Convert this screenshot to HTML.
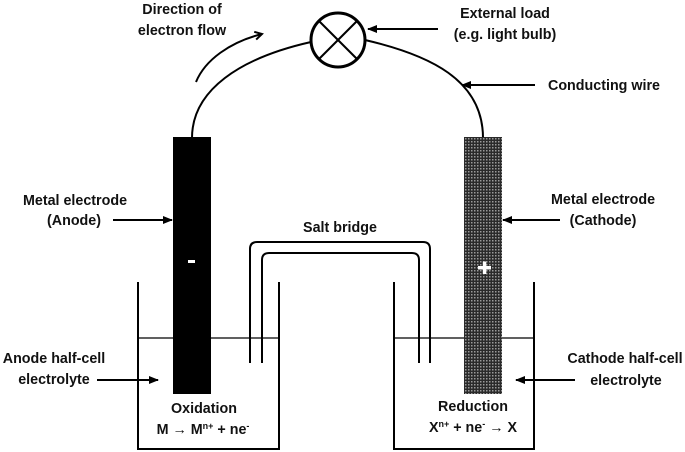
<!DOCTYPE html>
<html><head><meta charset="utf-8"><style>
html,body{margin:0;padding:0;background:#fff}
svg{display:block}
text{font-family:"Liberation Sans",sans-serif;font-weight:bold;font-size:14.3px;fill:#111}
</style></head><body>
<svg width="685" height="452" viewBox="0 0 685 452" xmlns="http://www.w3.org/2000/svg">
<defs>
<pattern id="dots" width="3" height="3" patternUnits="userSpaceOnUse">
<rect width="3" height="3" fill="#2a2a2a"/><rect width="1.5" height="1.5" fill="#9a9a9a"/>
</pattern>
<marker id="ah" markerWidth="10" markerHeight="8" refX="9" refY="4" orient="auto" markerUnits="userSpaceOnUse">
<path d="M0,0 L10,4 L0,8 Z" fill="#000"/></marker>
<marker id="ch" markerWidth="10" markerHeight="10" refX="8" refY="5" orient="auto" markerUnits="userSpaceOnUse">
<path d="M1,1 L8,5 L1,9" fill="none" stroke="#000" stroke-width="2"/></marker>
</defs>
<g stroke="#000" fill="none" stroke-width="2">
<path d="M192,138 C192,90 240,58 311,42"/>
<path d="M365,40 C430,55 483,80 483,138"/>
<circle cx="338" cy="40" r="27" stroke-width="3" fill="#fff"/>
<line x1="319" y1="21" x2="357" y2="59"/>
<line x1="357" y1="21" x2="319" y2="59"/>
<path d="M196,82 C205,60 230,42 262,34" marker-end="url(#ch)"/>
<polyline points="138,282 138,449 279,449 279,282"/>
<polyline points="394,282 394,449 534,449 534,282"/>
<line x1="138" y1="338" x2="279" y2="338" stroke-width="1.3"/>
<line x1="394" y1="338" x2="534" y2="338" stroke-width="1.3"/>
<path d="M250,363 V249 Q250,242 257,242 H423 Q430,242 430,249 V363"/>
<path d="M262,363 V260 Q262,253 269,253 H412 Q419,253 419,260 V363"/>
<line x1="438" y1="29" x2="368" y2="29" marker-end="url(#ah)"/>
<line x1="535" y1="85" x2="462" y2="85" marker-end="url(#ah)"/>
<line x1="113" y1="220" x2="172" y2="220" marker-end="url(#ah)"/>
<line x1="560" y1="220" x2="503" y2="220" marker-end="url(#ah)"/>
<line x1="97" y1="380" x2="158" y2="380" marker-end="url(#ah)"/>
<line x1="575" y1="380" x2="516" y2="380" marker-end="url(#ah)"/>
</g>
<rect x="173" y="137" width="38" height="257" fill="#000"/>
<rect x="464" y="137" width="38" height="257" fill="url(#dots)"/>
<rect x="188" y="260" width="7" height="3" fill="#fff"/>
<rect x="478" y="266" width="13" height="3.5" fill="#fff"/>
<rect x="482.8" y="261.5" width="3.5" height="12.5" fill="#fff"/>
<text x="182" y="14" text-anchor="middle">Direction of</text>
<text x="182" y="35" text-anchor="middle">electron flow</text>
<text x="505" y="18" text-anchor="middle">External load</text>
<text x="505" y="39" text-anchor="middle">(e.g. light bulb)</text>
<text x="548" y="90">Conducting wire</text>
<text x="75" y="205" text-anchor="middle">Metal electrode</text>
<text x="74" y="225" text-anchor="middle">(Anode)</text>
<text x="603" y="204" text-anchor="middle">Metal electrode</text>
<text x="603" y="225" text-anchor="middle">(Cathode)</text>
<text x="340" y="232" text-anchor="middle">Salt bridge</text>
<text x="54" y="363" text-anchor="middle">Anode half-cell</text>
<text x="54" y="384" text-anchor="middle">electrolyte</text>
<text x="625" y="363" text-anchor="middle">Cathode half-cell</text>
<text x="626" y="385" text-anchor="middle">electrolyte</text>
<text x="204" y="413" text-anchor="middle">Oxidation</text>
<text x="203" y="434" text-anchor="middle">M → M<tspan font-size="9" dy="-5">n+</tspan><tspan dy="5"> + ne</tspan><tspan font-size="9" dy="-5">-</tspan></text>
<text x="473" y="411" text-anchor="middle">Reduction</text>
<text x="473" y="432" text-anchor="middle">X<tspan font-size="9" dy="-5">n+</tspan><tspan dy="5"> + ne</tspan><tspan font-size="9" dy="-5">-</tspan><tspan dy="5"> → X</tspan></text>
</svg>
</body></html>
